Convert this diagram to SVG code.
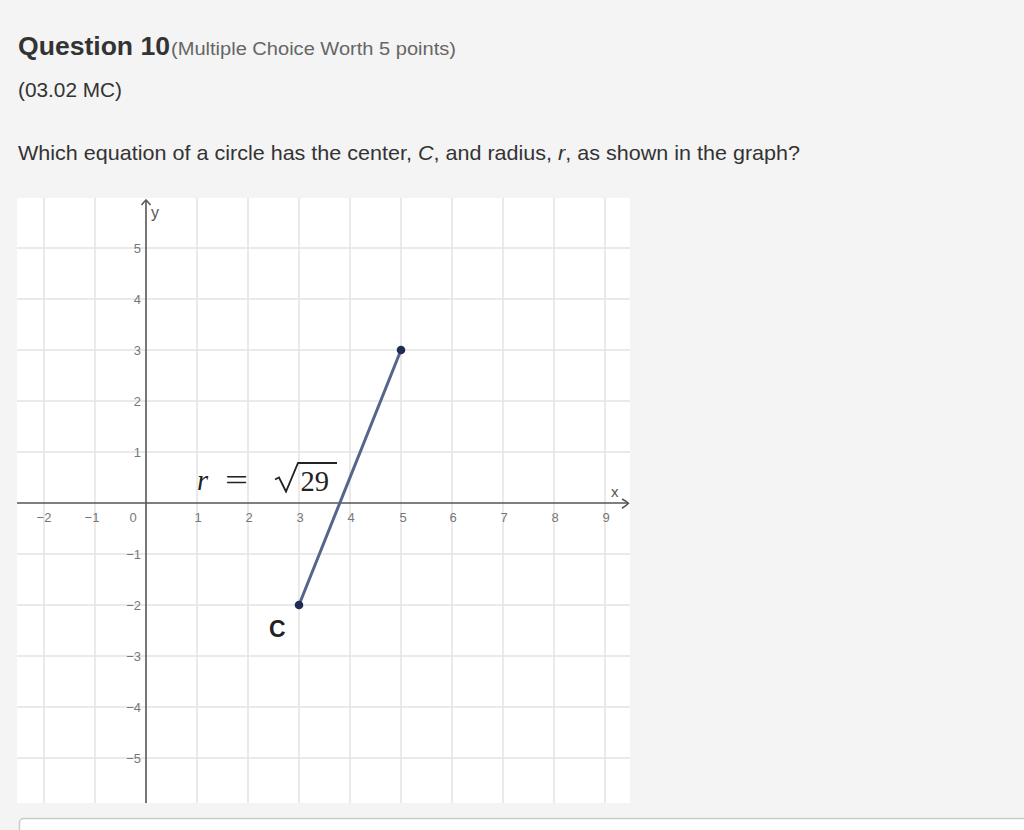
<svg xmlns="http://www.w3.org/2000/svg" width="1024" height="830" viewBox="0 0 1024 830">
<style>
.grid{stroke:#e4e4e4;stroke-width:1.5;fill:none}
.axis{stroke:#555;stroke-width:1.6;fill:none}
.tick{font-family:"Liberation Sans",Arial,sans-serif;font-size:13px;fill:#777}
.tx{text-anchor:middle}
.ty{text-anchor:end}
.hdr{font-family:"Liberation Sans",Arial,sans-serif}
.ser{font-family:"Liberation Serif","Times New Roman",serif;font-size:28.5px;fill:#222}
</style>
<rect x="0" y="0" width="1024" height="830" fill="#f4f4f4"/>
<g id="header">
<text class="hdr" x="18" y="55" font-size="25" font-weight="bold" fill="#333" textLength="152" lengthAdjust="spacingAndGlyphs">Question 10</text>
<text class="hdr" x="171" y="55" font-size="18" fill="#666" textLength="285" lengthAdjust="spacingAndGlyphs">(Multiple Choice Worth 5 points)</text>
<text class="hdr" x="18" y="97" font-size="19.5" fill="#333" textLength="104" lengthAdjust="spacingAndGlyphs">(03.02 MC)</text>
<text class="hdr" x="18" y="160" font-size="21" fill="#333" textLength="782" lengthAdjust="spacingAndGlyphs">Which equation of a circle has the center, <tspan font-style="italic">C</tspan>, and radius, <tspan font-style="italic">r</tspan>, as shown in the graph?</text>
</g>
<g id="graph">
<rect x="17" y="198" width="613" height="605" fill="#fff"/>
<g id="gridlines" class="grid">
<path d="M44,198V803M95,198V803M197,198V803M248,198V803M299,198V803M350,198V803M401,198V803M452,198V803M503,198V803M554,198V803M605,198V803"/>
<path d="M17,248H630M17,299H630M17,350H630M17,401H630M17,452H630M17,554H630M17,605H630M17,656H630M17,707H630M17,758H630"/>
</g>
<g id="axes" class="axis">
<path d="M17,503H628"/>
<path d="M146,200V803"/>
<path d="M622,499Q626,501 628.5,503.3Q626,506 622,508.3"/>
<path d="M141.5,205Q144,202 146,200Q148,202 150.5,205"/>
</g>
<text x="151" y="218" font-family="Liberation Sans,Arial,sans-serif" font-size="16" fill="#555">y</text>
<text x="611" y="497" font-family="Liberation Sans,Arial,sans-serif" font-size="15" fill="#555">x</text>
<g id="xlabels" class="tick tx">
<text x="44" y="522">−2</text>
<text x="92" y="522">−1</text>
<text x="133" y="522">0</text>
<text x="198" y="522">1</text>
<text x="249" y="522">2</text>
<text x="300" y="522">3</text>
<text x="351" y="522">4</text>
<text x="403" y="522">5</text>
<text x="453" y="522">6</text>
<text x="504" y="522">7</text>
<text x="555" y="522">8</text>
<text x="606" y="522">9</text>
</g>
<g id="ylabels" class="tick ty">
<text x="141" y="253">5</text>
<text x="141" y="304">4</text>
<text x="141" y="355">3</text>
<text x="141" y="406">2</text>
<text x="141" y="457">1</text>
<text x="141" y="559">−1</text>
<text x="141" y="610">−2</text>
<text x="141" y="661">−3</text>
<text x="141" y="712">−4</text>
<text x="141" y="763">−5</text>
</g>
</g>
<g id="segment">
<line x1="299" y1="605" x2="401" y2="350" stroke="#56658a" stroke-width="3"/>
<circle cx="299" cy="605" r="4.3" fill="#1f2d52"/>
<circle cx="401" cy="350" r="4.3" fill="#1f2d52"/>
</g>
<g id="label-r">
<text class="ser" x="197" y="490" font-style="italic">r</text>
<text class="ser" x="225" y="490" textLength="23" lengthAdjust="spacingAndGlyphs">=</text>
<path d="M275,479.5L279,477.5L286,491.5L298,463H337" fill="none" stroke="#222" stroke-width="1.8" stroke-linejoin="miter"/>
<text class="ser" x="300.5" y="491">29</text>
</g>
<g id="label-C">
<text x="269" y="637" font-family="Liberation Sans,Arial,sans-serif" font-size="23" font-weight="bold" fill="#222">C</text>
</g>
<rect x="19.5" y="818.5" width="1020" height="40" rx="4" fill="#fff" stroke="#ccc" stroke-width="1.5"/>
</svg>
